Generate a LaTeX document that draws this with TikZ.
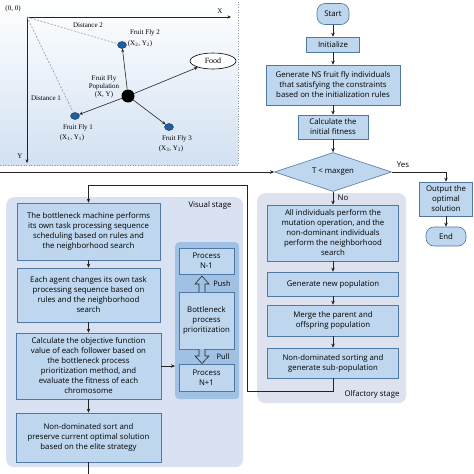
\documentclass[tikz,border=0pt]{standalone}
\usepackage{fontspec}
\setmainfont{Open Sans}
\newfontfamily\insetfont{Liberation Serif}
\usetikzlibrary{arrows.meta,shapes.geometric}
\definecolor{boxfill}{RGB}{190,214,238}
\definecolor{boxborder}{RGB}{80,120,165}
\definecolor{vpanelc}{RGB}{217,226,242}
\definecolor{opanelc}{RGB}{221,226,238}
\definecolor{bpanelc}{RGB}{160,193,227}
\definecolor{linec}{RGB}{35,35,35}
\definecolor{flyc}{RGB}{31,95,160}
\definecolor{flyb}{RGB}{20,50,90}
\definecolor{dashc}{RGB}{140,152,172}
\definecolor{insetb}{RGB}{210,225,242}
\begin{document}
\begin{tikzpicture}[x=1pt,y=-1pt,
  box/.style={draw=boxborder,fill=boxfill,line width=0.6pt,align=center,
    font=\fontsize{7.8}{10}\selectfont,inner sep=1pt},
  pill/.style={box,rounded corners=8pt},
  panel/.style={fill=#1,rounded corners=8pt,inner sep=0pt,anchor=north west},
  arr/.style={-{Stealth[length=4pt,width=3.5pt]},line width=0.8pt,draw=linec},
  thinarr/.style={-{Stealth[length=3.5pt,width=3pt]},line width=0.6pt,draw=linec},
  lbl/.style={font=\fontsize{7.8}{10}\selectfont,inner sep=0pt},
  ins/.style={font=\insetfont\fontsize{7}{8}\selectfont,inner sep=0pt,align=center},
  fly/.style={ellipse,draw=flyb,fill=flyc,minimum width=9pt,minimum height=7pt,inner sep=0pt},
  dist/.style={draw=dashc,line width=0.6pt,dash pattern=on 2pt off 1.5pt},
  hollow/.style={draw=linec,line width=0.6pt,fill=bpanelc}
]
\useasboundingbox (0,0) rectangle (474,474);

% ---------- inset ----------
\shade[top color=white,bottom color=insetb] (0,0) rectangle (238,165);
\draw[draw=dashc,dotted,line width=0.6pt] (0,-2) -- (238,-2) -- (238,165) -- (0,165);
\coordinate (o) at (27,17);
\coordinate (xe) at (231,17);
\coordinate (ye) at (27,163);
\draw[thinarr] (o) -- (xe);
\draw[thinarr] (o) -- (ye);
\node[ins] (t00) at (13,9) {(0, 0)};
\node[ins] (tx) at (220,11) {X};
\node[ins] (ty) at (20,156) {Y};
\node[circle,fill=black,minimum size=13pt,inner sep=0pt] (pop) at (128,96) {};
\node[fly] (fly1) at (75,116) {};
\node[fly] (fly2) at (122,45) {};
\node[fly] (fly3) at (169,127) {};
\node[ellipse,draw=black,fill=white,line width=0.6pt,minimum width=46pt,minimum height=16pt,inner sep=0pt,
  font=\insetfont\fontsize{8}{9}\selectfont] (food) at (213,61) {Food};
\draw[dist] (o) -- (fly2);
\draw[dist] (o) -- (fly1);
\draw[thinarr] (pop) -- (fly1);
\draw[thinarr] (pop) -- (fly2);
\draw[thinarr] (pop) -- (fly3);
\draw[thinarr] (pop) -- (food);
\node[ins] (d2) at (88,25) {Distance 2};
\node[ins] (d1) at (46,98) {Distance 1};
\node[ins] (f2a) at (145,33) {Fruit Fly 2};
\node[ins] (f2b) at (140,44) {(X\textsubscript{2}, Y\textsubscript{2})};
\node[ins] (fpop) at (104,87) {Fruit Fly\\Population\\(X, Y)};
\node[ins] (f1a) at (78,128) {Fruit Fly 1};
\node[ins] (f1b) at (72,138) {(X\textsubscript{1}, Y\textsubscript{1})};
\node[ins] (f3a) at (177,139) {Fruit Fly 3};
\node[ins] (f3b) at (171,149) {(X\textsubscript{3}, Y\textsubscript{3})};

% ---------- panels ----------
\node[panel=vpanelc,minimum width=237pt,minimum height=270pt] (vpanel) at (6,197) {};
\node[panel=opanelc,minimum width=149pt,minimum height=210pt] (opanel) at (257,193) {};
\node[panel=bpanelc,minimum width=64pt,minimum height=157pt,rounded corners=4pt] (bpanel) at (175,242) {};
\node[lbl] (vlab) at (210,205) {Visual stage};
\node[lbl] (olab) at (372,394) {Olfactory stage};

% ---------- main column ----------
\node[pill,minimum width=32pt,minimum height=21pt] (start) at (333,14) {Start};
\node[box,minimum width=53pt,minimum height=15pt] (init) at (333,44.5) {Initialize};
\node[box,minimum width=134pt,minimum height=40pt] (gen) at (333,85) {Generate NS fruit fly individuals\\that satisfying the constraints\\based on the initialization rules};
\node[box,minimum width=70pt,minimum height=24pt] (calc) at (333,127) {Calculate the\\initial fitness};
\node[diamond,draw=boxborder,fill=boxfill,line width=0.6pt,aspect=3,inner sep=0pt,
  minimum width=117pt,minimum height=39pt,font=\fontsize{7.8}{10}\selectfont] (dia) at (333,172) {T < maxgen};
\node[box,minimum width=53pt,minimum height=34pt] (out) at (446,199) {Output the\\optimal\\solution};
\node[pill,minimum width=40pt,minimum height=19pt] (endn) at (446,236.5) {End};

\node[box,minimum width=131pt,minimum height=56pt] (mut) at (333,233) {All individuals perform the\\mutation operation, and the\\non-dominant individuals\\perform the neighborhood\\search};
\node[box,minimum width=131pt,minimum height=24pt] (newp) at (333,284) {Generate new population};
\node[box,minimum width=131pt,minimum height=31pt] (merge) at (333,320.5) {Merge the parent and\\offspring population};
\node[box,minimum width=131pt,minimum height=30pt] (nds) at (333,363) {Non-dominated sorting and\\generate sub-population};

% ---------- visual stage ----------
\node[box,minimum width=143pt,minimum height=57pt] (v1) at (88.5,231.5) {The bottleneck machine performs\\its own task processing sequence\\scheduling based on rules and\\the neighborhood search};
\node[box,minimum width=143pt,minimum height=54pt] (v2) at (88.5,295) {Each agent changes its own task\\processing sequence based on\\rules and the neighborhood\\search};
\node[box,minimum width=145pt,minimum height=66pt] (v3) at (88.5,366) {Calculate the objective function\\value of each follower based on\\the bottleneck process\\prioritization method, and\\evaluate the fitness of each\\chromosome};
\node[box,minimum width=145pt,minimum height=49pt] (v4) at (88.5,437.5) {Non-dominated sort and\\preserve current optimal solution\\based on the elite strategy};

\node[box,minimum width=55pt,minimum height=26pt] (pn1) at (206.5,261) {Process\\N-1};
\node[box,minimum width=55pt,minimum height=57pt] (bpp) at (206.5,320.5) {Bottleneck\\process\\prioritization};
\node[box,minimum width=55pt,minimum height=27pt] (pn2) at (206.5,377.5) {Process\\N+1};

\draw[hollow] (199,292) -- (199,284) -- (195,284) -- (202,276) -- (209,284) -- (205,284) -- (205,292);
\draw[hollow] (199,349) -- (199,356) -- (195,356) -- (202,363.5) -- (209,356) -- (205,356) -- (205,349);
\node[lbl,font=\fontsize{7.5}{9}\selectfont] (push) at (222,284) {Push};
\node[lbl,font=\fontsize{7.5}{9}\selectfont] (pull) at (223,357) {Pull};

% ---------- connectors ----------
\coordinate (ein) at (0,172);
\draw[arr] (ein) -- (dia.west);
\draw[arr] (start) -- (init);
\draw[arr] (init) -- (gen);
\draw[arr] (gen) -- (calc);
\draw[arr] (calc) -- (dia);
\draw[arr] (dia.east) -| (out.north);
\node[lbl] (yes) at (403,165) {Yes};
\draw[arr] (out) -- (endn);
\draw[arr] (dia.south) -- (mut.north);
\node[lbl] (no) at (343,198) {No};
\draw[arr] (mut) -- (newp);
\draw[arr] (newp) -- (merge);
\draw[arr] (merge) -- (nds);
\coordinate (c2) at (247,391);
\coordinate (c3) at (247,185);
\draw[arr] (nds.south) |- (c2) -- (c3) -| (v1.north);
\draw[arr] (v1) -- (v2);
\draw[arr] (v2) -- (v3);
\draw[arr] (v3) -- (v4);
\coordinate (vout) at (88.5,476);
\draw[line width=0.8pt,draw=linec] (v4.south) -- (vout);
\draw[arr] (v3.east) -- (v3.east -| bpanel.west);
\end{tikzpicture}
\end{document}
